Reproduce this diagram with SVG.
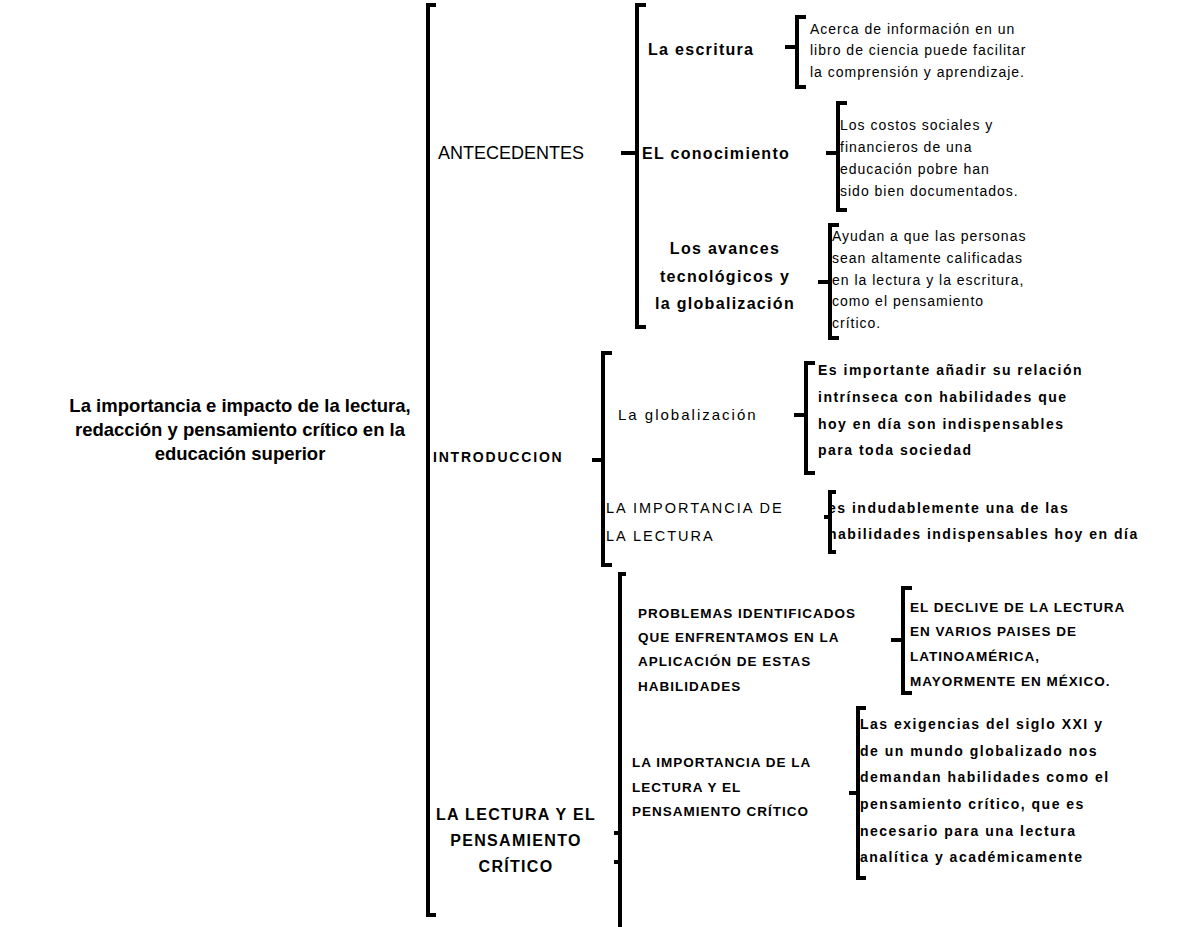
<svg xmlns="http://www.w3.org/2000/svg" width="1200" height="927" viewBox="0 0 1200 927">
<style>
.b{fill:none;stroke:#000;stroke-width:4}
.t{font-family:"Liberation Sans",Arial,sans-serif;font-size:14px;fill:#000;letter-spacing:1px}
.h{font-family:"Liberation Sans",Arial,sans-serif;font-size:14px;font-weight:bold;fill:#000;letter-spacing:1.3px}
.k{font-family:"Liberation Sans",Arial,sans-serif;font-size:16px;font-weight:900;fill:#000;letter-spacing:1.3px}
</style>
<rect width="1200" height="927" fill="#fff"/>
<g id="connectors">
<path class="b" d="M436,5 H428 V915 H436"/>
<path class="b" d="M646,5 H637 V327 H646 M621,153 H637"/>
<path class="b" d="M612,353 H603 V565 H612 M592,460 H603"/>
<path class="b" d="M626,574 H620 V927 M614,833 H620 M614,862 H620"/>
<path class="b" d="M806,17 H797 V87 H806 M785,47 H797"/>
<path class="b" d="M847,103 H838 V210 H847 M826,153 H838"/>
<path class="b" d="M839,225 H830 V338 H839 M818,282 H830"/>
<path class="b" d="M815,363 H806 V473 H815 M794,415 H806"/>
<path class="b" d="M836,492 H830 V552 H836 M824,517 H830"/>
<path class="b" d="M912,588 H903 V693 H912 M891,640 H903"/>
<path class="b" d="M866,708 H858 V878 H866 M849,793 H858"/>
</g>
<g id="root"><text class="t" text-anchor="middle" style="font-size:18.5px;font-weight:bold;letter-spacing:0"><tspan x="240" y="412">La importancia e impacto de la lectura,</tspan><tspan x="240" y="436">redacción y pensamiento crítico en la</tspan><tspan x="240" y="460">educación superior</tspan></text></g>
<g id="antecedentes"><text class="t" x="438" y="159" style="font-size:18px;letter-spacing:0">ANTECEDENTES</text></g>
<g id="escritura"><text class="k" x="648" y="55">La escritura</text></g>
<g id="conocimiento"><text class="k" x="642" y="159">EL conocimiento</text></g>
<g id="avances"><text class="k" text-anchor="middle"><tspan x="725" y="254">Los avances</tspan><tspan x="725" y="282">tecnológicos y</tspan><tspan x="725" y="309">la globalización</tspan></text></g>
<g id="n1"><text class="t"><tspan x="810" y="34">Acerca de información en un</tspan><tspan x="810" y="55">libro de ciencia puede facilitar</tspan><tspan x="810" y="77">la comprensión y aprendizaje.</tspan></text></g>
<g id="n2"><text class="t"><tspan x="840" y="130">Los costos sociales y</tspan><tspan x="840" y="152">financieros de una</tspan><tspan x="840" y="174">educación pobre han</tspan><tspan x="840" y="196">sido bien documentados.</tspan></text></g>
<g id="n3"><text class="t"><tspan x="832" y="241">Ayudan a que las personas</tspan><tspan x="832" y="263">sean altamente calificadas</tspan><tspan x="832" y="285">en la lectura y la escritura,</tspan><tspan x="832" y="306">como el pensamiento</tspan><tspan x="832" y="328">crítico.</tspan></text></g>
<g id="introduccion"><text class="h" x="433" y="462" style="letter-spacing:1.8px">INTRODUCCION</text></g>
<g id="globalizacion"><text class="t" x="618" y="420" style="font-size:15px;letter-spacing:2px">La globalización</text></g>
<g id="importancia"><text class="t" style="letter-spacing:2px;font-size:14.5px"><tspan x="606" y="513">LA IMPORTANCIA DE</tspan><tspan x="606" y="541">LA LECTURA</tspan></text></g>
<g id="n4"><text class="h" style="letter-spacing:1.5px"><tspan x="818" y="375">Es importante añadir su relación</tspan><tspan x="818" y="402">intrínseca con habilidades que</tspan><tspan x="818" y="429">hoy en día son indispensables</tspan><tspan x="818" y="455">para toda sociedad</tspan></text></g>
<g id="n5"><text class="h" style="letter-spacing:1.5px"><tspan x="828" y="513">es indudablemente una de las</tspan><tspan x="828" y="539">habilidades indispensables hoy en día</tspan></text></g>
<g id="lectura"><text class="k" text-anchor="middle"><tspan x="516" y="820">LA LECTURA Y EL</tspan><tspan x="516" y="846">PENSAMIENTO</tspan><tspan x="516" y="872">CRÍTICO</tspan></text></g>
<g id="problemas"><text class="h" style="font-size:13.5px;letter-spacing:1px"><tspan x="638" y="618">PROBLEMAS IDENTIFICADOS</tspan><tspan x="638" y="642">QUE ENFRENTAMOS EN LA</tspan><tspan x="638" y="666">APLICACIÓN DE ESTAS</tspan><tspan x="638" y="691">HABILIDADES</tspan></text></g>
<g id="importancia2"><text class="h" style="font-size:13.5px;letter-spacing:1px"><tspan x="632" y="767">LA IMPORTANCIA DE LA</tspan><tspan x="632" y="792">LECTURA Y EL</tspan><tspan x="632" y="816">PENSAMIENTO CRÍTICO</tspan></text></g>
<g id="n6"><text class="h" style="font-size:13.5px;letter-spacing:1px"><tspan x="910" y="612">EL DECLIVE DE LA LECTURA</tspan><tspan x="910" y="636">EN VARIOS PAISES DE</tspan><tspan x="910" y="661">LATINOAMÉRICA,</tspan><tspan x="910" y="686">MAYORMENTE EN MÉXICO.</tspan></text></g>
<g id="n7"><text class="h" style="letter-spacing:1.5px"><tspan x="860" y="729">Las exigencias del siglo XXI y</tspan><tspan x="860" y="756">de un mundo globalizado nos</tspan><tspan x="860" y="782">demandan habilidades como el</tspan><tspan x="860" y="809">pensamiento crítico, que es</tspan><tspan x="860" y="836">necesario para una lectura</tspan><tspan x="860" y="862">analítica y académicamente</tspan></text></g>
</svg>
